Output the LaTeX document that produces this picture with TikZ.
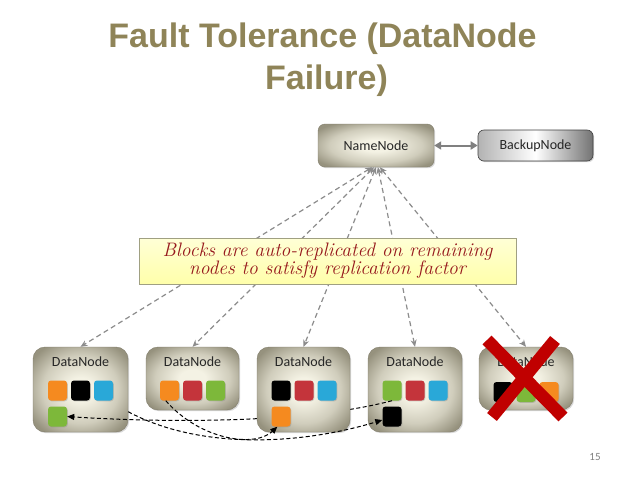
\documentclass[tikz,border=0pt]{standalone}
\usepackage{fontspec}
\newfontfamily\calfont{Carlito}
\newfontfamily\titlefont{Liberation Sans}
\usetikzlibrary{arrows.meta,shadows,calc}
\definecolor{titlecol}{RGB}{143,132,88}
\definecolor{dnin}{RGB}{244,242,228}
\definecolor{dnmid}{RGB}{208,205,188}
\definecolor{dnout}{RGB}{150,146,126}
\definecolor{dnedge}{RGB}{128,124,106}
\definecolor{cOrange}{RGB}{245,138,31}
\definecolor{cBlue}{RGB}{41,168,216}
\definecolor{cGreen}{RGB}{125,184,58}
\definecolor{cRed}{RGB}{196,52,59}
\definecolor{cBlack}{RGB}{0,0,0}
\definecolor{xred}{RGB}{192,0,0}
\definecolor{handred}{RGB}{150,24,28}
\definecolor{callfill}{RGB}{255,255,170}
\definecolor{calltop}{RGB}{255,255,214}
\definecolor{calledge}{RGB}{160,160,130}
\definecolor{graylink}{RGB}{140,140,140}
\pgfdeclareradialshading{boxshade}{\pgfpoint{0bp}{0bp}}{color(0bp)=(dnin); color(7bp)=(dnin); color(20bp)=(dnmid); color(31bp)=(dnout); color(50bp)=(dnout)}
\tikzset{
  dnbox/.style={shading=boxshade, draw=dnedge, line width=0.4pt, rounded corners=12pt, inner sep=0pt,
    drop shadow={opacity=0.3, shadow xshift=1.2pt, shadow yshift=-1.2pt}},
  lbl/.style={font=\calfont\fontsize{14}{16}\selectfont, inner sep=0pt, text=black!85},
  blk/.style={minimum width=19pt, minimum height=20pt, inner sep=0pt, rounded corners=3pt,
    drop shadow={opacity=0.35, shadow xshift=0.8pt, shadow yshift=-0.8pt}},
  graylink/.style={draw=graylink, line width=1.2pt, dash pattern=on 5pt off 3.5pt,
    {Stealth[length=7pt,width=6pt]}-{Stealth[length=7pt,width=6pt]}},
  blacklink/.style={draw=black, line width=1pt, dash pattern=on 4pt off 2.5pt, -{Triangle[length=7pt,width=6pt]}},
  xline/.style={draw=xred, line width=12.5pt}
}
\begin{document}
\begin{tikzpicture}[x=1pt,y=-1pt]
\useasboundingbox[fill=white] (0,0) rectangle (638,479);

% title
\node[anchor=base, text=titlecol, font=\titlefont\bfseries\fontsize{34}{40}\selectfont, inner sep=0pt] (t1) at (322.5,47) {Fault Tolerance (DataNode};
\node[anchor=base, text=titlecol, font=\titlefont\bfseries\fontsize{34}{40}\selectfont, inner sep=0pt] (t2) at (326.5,89) {Failure)};

% NameNode and BackupNode
\node[dnbox, rounded corners=7pt, minimum width=116pt, minimum height=43pt, lbl] (nn) at (376,145.5) {NameNode};
\node[draw=black!75, line width=0.6pt, rounded corners=6pt, minimum width=115pt, minimum height=31pt,
  left color=black!30, right color=black!55, middle color=white, lbl,
  drop shadow={opacity=0.3, shadow xshift=1.2pt, shadow yshift=-1.2pt}] (bn) at (535.5,145.5) {BackupNode};
\draw[draw=black!50, line width=2pt, {Triangle[length=7pt,width=8pt]}-{Triangle[length=7pt,width=8pt]}] (nn.east) -- (bn.west);

% DataNode 1
\node[dnbox, minimum width=95pt, minimum height=85pt] (dn1) at (80.5,389.5) {};
\node[lbl] (l1) at ($(dn1.north)+(0,15)$) {DataNode};
\node[blk, fill=cOrange] (o1) at (57.5,390.5) {};
\node[blk, fill=cBlack] (k1) at (80.5,390.5) {};
\node[blk, fill=cBlue] (b1) at (103.5,390.5) {};
\node[blk, fill=cGreen] (g1) at (57.5,416.5) {};

% DataNode 2
\node[dnbox, minimum width=93pt, minimum height=63pt] (dn2) at (192.5,378.5) {};
\node[lbl] (l2) at ($(dn2.north)+(0,15)$) {DataNode};
\node[blk, fill=cOrange] (o2) at (169.5,390.5) {};
\node[blk, fill=cRed] (r2) at (192.5,390.5) {};
\node[blk, fill=cGreen] (g2) at (215.5,390.5) {};

% DataNode 4
\node[dnbox, minimum width=94pt, minimum height=85pt] (dn4) at (415,389.5) {};
\node[lbl] (l4) at ($(dn4.north)+(0,15)$) {DataNode};
\node[blk, fill=cGreen] (g4) at (392,390.5) {};
\node[blk, fill=cRed] (r4) at (415,390.5) {};
\node[blk, fill=cBlue] (b4) at (438,390.5) {};
\node[blk, fill=cBlack] (k4) at (392,416.5) {};

% DataNode 5 (failed)
\node[dnbox, minimum width=94pt, minimum height=63pt] (dn5) at (526,378.5) {};
\node[lbl] (l5) at ($(dn5.north)+(0,15)$) {DataNode};
\node[blk, fill=cBlack] (k5) at (503,392) {};
\node[blk, fill=cGreen] (g5) at (526,392) {};
\node[blk, fill=cOrange] (o5) at (549,392) {};

% replication link passing behind DataNode 3
\draw[blacklink] (g4.south) .. controls (300,425) and (150,422) .. (g1.east);

% DataNode 3
\node[dnbox, minimum width=93pt, minimum height=85pt] (dn3) at (303.5,389.5) {};
\node[lbl] (l3) at ($(dn3.north)+(0,15)$) {DataNode};
\node[blk, fill=cBlack] (k3) at (281,390.5) {};
\node[blk, fill=cRed] (r3) at (304,390.5) {};
\node[blk, fill=cBlue] (b3) at (327,390.5) {};
\node[blk, fill=cOrange] (o3) at (281,416.5) {};

% other replication links
\draw[blacklink] (o2.-110) .. controls (200,440) and (255,448) .. (o3.-110);
\draw[blacklink] (dn1.-25) .. controls (200,450) and (300,445) .. (k4.200);

% heartbeat links
\draw[graylink] (nn.-100) -- (dn1.north);
\draw[graylink] (nn.-95) -- (dn2.north);
\draw[graylink] (nn.-90) -- (dn3.north);
\draw[graylink] (nn.-85) -- (dn4.north);
\draw[graylink] (nn.-80) -- (dn5.north);

% callout
\node[draw=calledge, line width=0.8pt, top color=calltop, bottom color=callfill, minimum width=377pt, minimum height=46pt,
  inner sep=0pt, align=center, text=handred, font=\itshape\fontsize{19.5}{18}\selectfont,
  drop shadow={opacity=0.25, shadow xshift=1.2pt, shadow yshift=-1.2pt}] (call) at (327.5,261)
  {Blocks are auto-replicated on remaining\\nodes to satisfy replication factor};

% red cross over failed node
\draw[xline] (487,340) -- (563,417);
\draw[xline] (555,340) -- (492,417);

% page number
\node[font=\calfont\fontsize{11}{13}\selectfont, text=black!50, inner sep=0pt] (pg) at (595,457) {15};
\end{tikzpicture}
\end{document}
